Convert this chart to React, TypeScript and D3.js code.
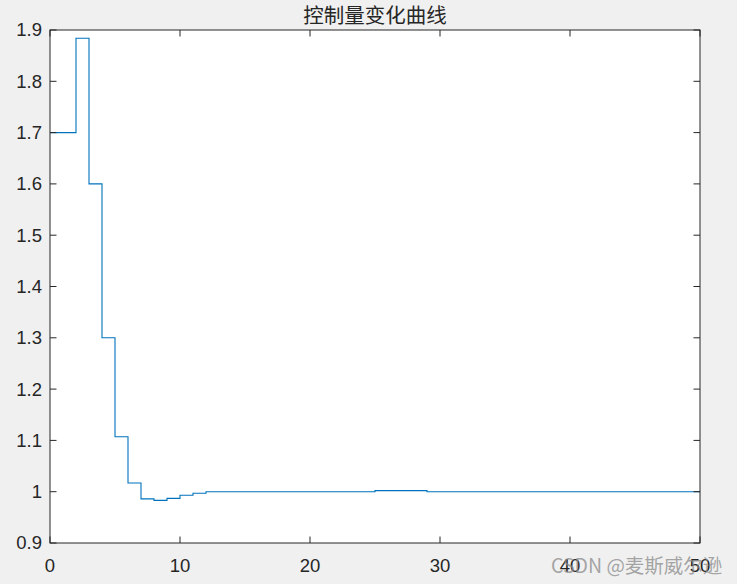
import React, { useRef, useEffect } from 'react';
import * as d3 from 'd3';

// sample index k and control value u(k), drawn as stairs
const steps = [0, 1, 2, 3, 4, 5, 6, 7, 8, 9, 10, 11, 12, 13, 14, 15, 16, 17, 18, 19, 20, 21, 22, 23, 24, 25, 26, 27, 28, 29, 30, 31, 32, 33, 34, 35, 36, 37, 38, 39, 40, 41, 42, 43, 44, 45, 46, 47, 48, 49, 50];
const control = [1.7, 1.7, 1.884, 1.6, 1.3, 1.107, 1.017, 0.986, 0.983, 0.987, 0.993, 0.997, 1.0, 1.0, 1.0, 1.0, 1.0, 1.0, 1.0, 1.0, 1.0, 1.0, 1.0, 1.0, 1.0, 1.002, 1.002, 1.002, 1.002, 1.0, 1.0, 1.0, 1.0, 1.0, 1.0, 1.0, 1.0, 1.0, 1.0, 1.0, 1.0, 1.0, 1.0, 1.0, 1.0, 1.0, 1.0, 1.0, 1.0, 1.0, 1.0];

const xTicks = [0, 10, 20, 30, 40, 50];
const yTicks = [0.9, 1, 1.1, 1.2, 1.3, 1.4, 1.5, 1.6, 1.7, 1.8, 1.9];

const title = '控制量变化曲线';
const watermark = 'CSDN @麦斯威尔逊';

const width = 737;
const height = 584;

const App: React.FC = () => {
  const ref = useRef<SVGSVGElement>(null);

  useEffect(() => {
    const svg = d3.select(ref.current!);
    svg.selectAll('*').remove();

    const margin = { top: 30, right: 37, bottom: 41, left: 50 };
    const w = width - margin.left - margin.right;
    const h = height - margin.top - margin.bottom;
    const tickLen = 6.5;
    const ink = '#262626';
    const font = 'Arial, "Liberation Sans", Helvetica, sans-serif';

    svg.append('rect').attr('width', width).attr('height', height).attr('fill', '#f0f0f0');

    const x = d3.scaleLinear().domain([0, 50]).range([0, w]);
    const y = d3.scaleLinear().domain([0.9, 1.9]).range([h, 0]);

    const g = svg.append('g').attr('transform', `translate(${margin.left},${margin.top})`);

    g.append('rect').attr('width', w).attr('height', h).attr('fill', '#fff');

    const data = steps.map((k, i) => ({ k, u: control[i] }));
    const line = d3.line<{ k: number; u: number }>()
      .x(d => x(d.k))
      .y(d => y(d.u))
      .curve(d3.curveStepAfter);

    g.append('path')
      .datum(data)
      .attr('d', line)
      .attr('fill', 'none')
      .attr('stroke', '#0072bd')
      .attr('stroke-width', 1.1);

    // box
    g.append('rect')
      .attr('x', 0).attr('y', 0).attr('width', w).attr('height', h)
      .attr('fill', 'none').attr('stroke', ink).attr('stroke-width', 1);

    // ticks (inward, all four sides)
    xTicks.forEach(t => {
      g.append('line').attr('x1', x(t)).attr('x2', x(t)).attr('y1', h).attr('y2', h - tickLen).attr('stroke', ink);
      g.append('line').attr('x1', x(t)).attr('x2', x(t)).attr('y1', 0).attr('y2', tickLen).attr('stroke', ink);
    });
    yTicks.forEach(t => {
      g.append('line').attr('x1', 0).attr('x2', tickLen).attr('y1', y(t)).attr('y2', y(t)).attr('stroke', ink);
      g.append('line').attr('x1', w).attr('x2', w - tickLen).attr('y1', y(t)).attr('y2', y(t)).attr('stroke', ink);
    });

    g.selectAll('.xl')
      .data(xTicks)
      .enter().append('text')
      .attr('class', 'xl')
      .attr('x', d => x(d))
      .attr('y', h + 29)
      .attr('text-anchor', 'middle')
      .attr('font-family', font)
      .attr('font-size', 18.5)
      .attr('fill', ink)
      .text(d => String(d));

    g.selectAll('.yl')
      .data(yTicks)
      .enter().append('text')
      .attr('class', 'yl')
      .attr('x', -8)
      .attr('y', d => y(d))
      .attr('dy', '0.35em')
      .attr('text-anchor', 'end')
      .attr('font-family', font)
      .attr('font-size', 18.5)
      .attr('fill', ink)
      .text(d => d3.format('~g')(d));

    svg.append('text')
      .attr('x', margin.left + w / 2)
      .attr('y', 23)
      .attr('text-anchor', 'middle')
      .attr('font-family', '"Noto Sans CJK SC", sans-serif')
      .attr('font-size', 20.5)
      .attr('fill', ink)
      .text(title);

    svg.append('text')
      .attr('x', 551)
      .attr('y', 573)
      .attr('font-family', '"Noto Sans CJK SC", sans-serif')
      .attr('font-size', 19.5)
      .attr('fill', '#8a8a8a')
      .attr('fill-opacity', 0.75)
      .text(watermark);
  }, []);

  return (
    <div style={{ position: 'fixed', left: 0, top: 0 }}>
      <svg ref={ref} width={width} height={height} style={{ display: 'block' }}></svg>
    </div>
  );
};

export default App;
